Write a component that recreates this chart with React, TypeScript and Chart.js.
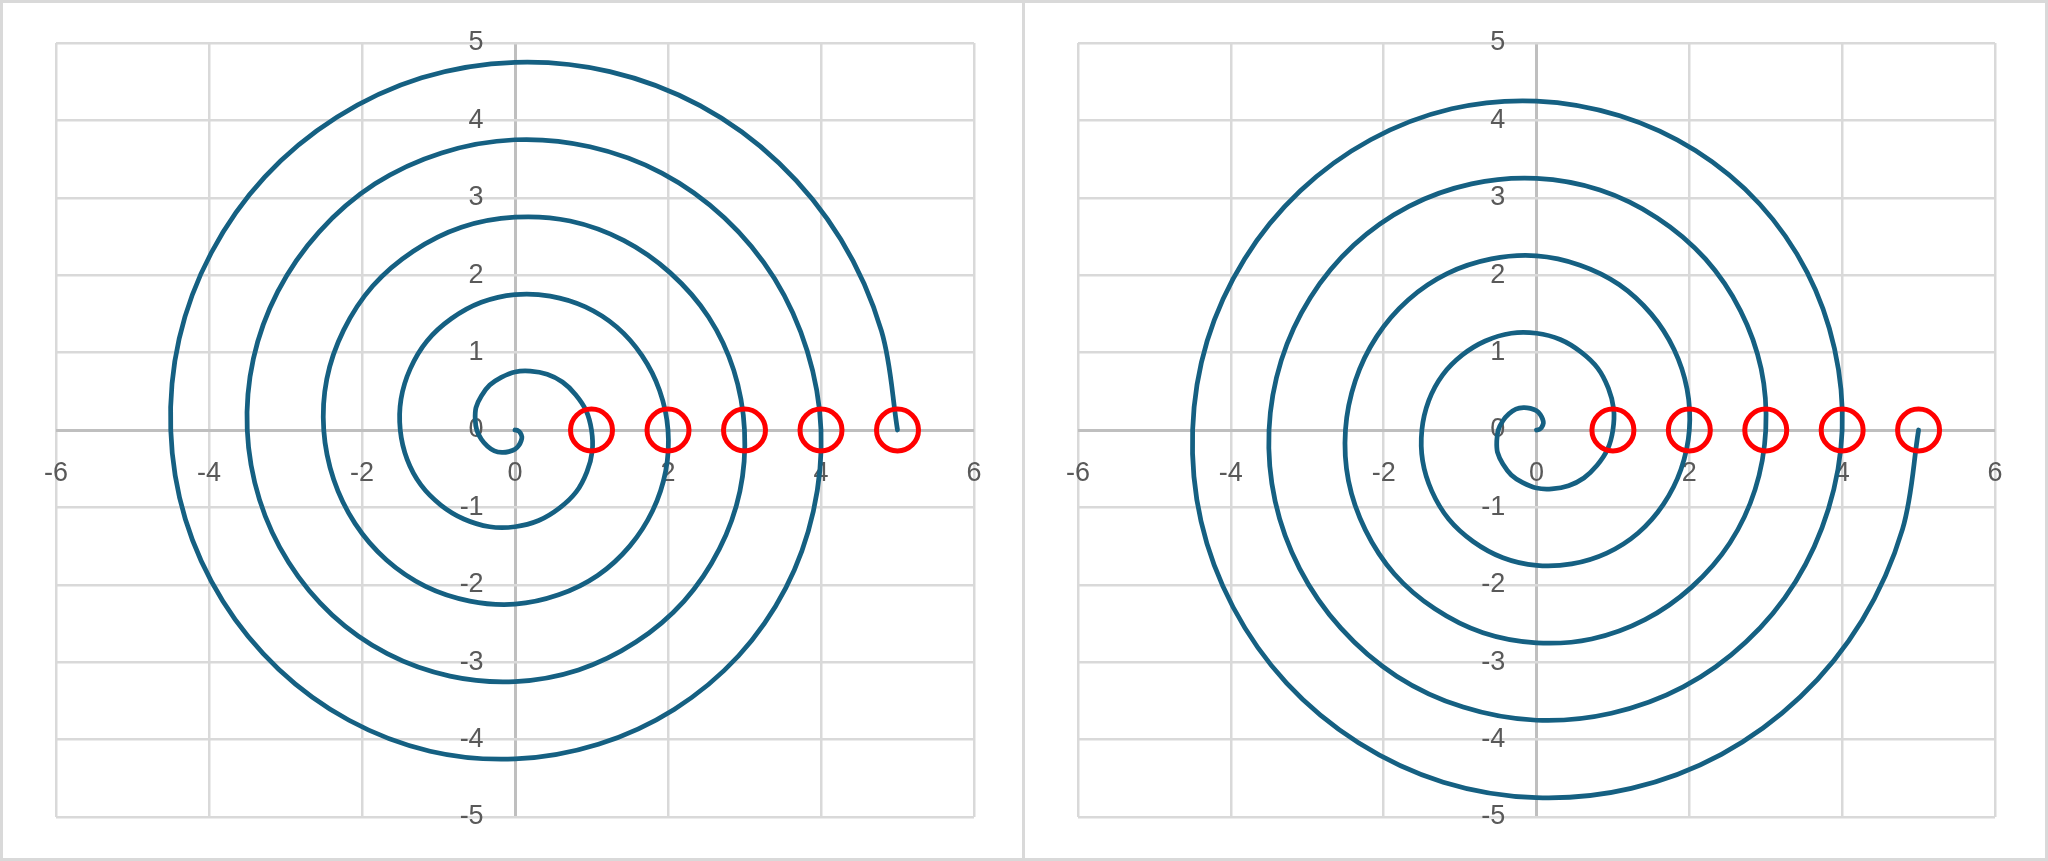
import { useEffect, useRef } from "react"
import { Chart, registerables } from "chart.js"

Chart.register(...registerables)

// Spiral points, one every 15 degrees (24 per turn, 5 turns).
// Both panels share the same x values; the left one turns clockwise, the right one counter-clockwise.
const spiralX = [
  0, 0.04, 0.07, 0.09, 0.08, 0.05, 0, -0.08, -0.17, -0.27, -0.36, -0.44,
  -0.5, -0.52, -0.51, -0.44, -0.33, -0.18, 0, 0.2, 0.42, 0.62, 0.79, 0.93,
  1, 1.01, 0.94, 0.8, 0.58, 0.31, 0, -0.33, -0.67, -0.97, -1.23, -1.41,
  -1.5, -1.49, -1.37, -1.15, -0.83, -0.44, 0, 0.46, 0.92, 1.33, 1.66, 1.89,
  2, 1.97, 1.8, 1.5, 1.08, 0.57, 0, -0.59, -1.17, -1.68, -2.09, -2.37,
  -2.5, -2.46, -2.24, -1.86, -1.33, -0.7, 0, 0.72, 1.42, 2.03, 2.53, 2.86,
  3, 2.94, 2.67, 2.21, 1.58, 0.83, 0, -0.85, -1.67, -2.39, -2.96, -3.34,
  -3.5, -3.42, -3.1, -2.56, -1.83, -0.96, 0, 0.98, 1.92, 2.74, 3.39, 3.82,
  4, 3.9, 3.54, 2.92, 2.08, 1.09, 0, -1.11, -2.17, -3.09, -3.82, -4.31,
  -4.5, -4.39, -3.97, -3.27, -2.33, -1.22, 0, 1.24, 2.42, 3.45, 4.26, 4.79,
  5,
]

const leftSpiralY = [
  0, -0.01, -0.04, -0.09, -0.14, -0.2, -0.25, -0.28, -0.29, -0.27, -0.21, -0.12,
  0, 0.14, 0.29, 0.44, 0.58, 0.68, 0.75, 0.76, 0.72, 0.62, 0.46, 0.25,
  0, -0.27, -0.54, -0.8, -1.01, -1.17, -1.25, -1.25, -1.15, -0.97, -0.71, -0.38,
  0, 0.4, 0.79, 1.15, 1.44, 1.65, 1.75, 1.73, 1.59, 1.33, 0.96, 0.51,
  0, -0.53, -1.04, -1.5, -1.88, -2.13, -2.25, -2.21, -2.02, -1.68, -1.21, -0.64,
  0, 0.66, 1.29, 1.86, 2.31, 2.62, 2.75, 2.7, 2.45, 2.03, 1.46, 0.77,
  0, -0.79, -1.54, -2.21, -2.74, -3.1, -3.25, -3.18, -2.89, -2.39, -1.71, -0.9,
  0, 0.92, 1.79, 2.56, 3.18, 3.58, 3.75, 3.66, 3.32, 2.74, 1.96, 1.02,
  0, -1.05, -2.04, -2.92, -3.61, -4.06, -4.25, -4.15, -3.75, -3.09, -2.21, -1.15,
  0, 1.18, 2.29, 3.27, 4.04, 4.55, 4.75, 4.63, 4.19, 3.45, 2.46, 1.28,
  0,
]

const rightSpiralY = [
  0, 0.01, 0.04, 0.09, 0.14, 0.2, 0.25, 0.28, 0.29, 0.27, 0.21, 0.12,
  0, -0.14, -0.29, -0.44, -0.58, -0.68, -0.75, -0.76, -0.72, -0.62, -0.46, -0.25,
  0, 0.27, 0.54, 0.8, 1.01, 1.17, 1.25, 1.25, 1.15, 0.97, 0.71, 0.38,
  0, -0.4, -0.79, -1.15, -1.44, -1.65, -1.75, -1.73, -1.59, -1.33, -0.96, -0.51,
  0, 0.53, 1.04, 1.5, 1.88, 2.13, 2.25, 2.21, 2.02, 1.68, 1.21, 0.64,
  0, -0.66, -1.29, -1.86, -2.31, -2.62, -2.75, -2.7, -2.45, -2.03, -1.46, -0.77,
  0, 0.79, 1.54, 2.21, 2.74, 3.1, 3.25, 3.18, 2.89, 2.39, 1.71, 0.9,
  0, -0.92, -1.79, -2.56, -3.18, -3.58, -3.75, -3.66, -3.32, -2.74, -1.96, -1.02,
  0, 1.05, 2.04, 2.92, 3.61, 4.06, 4.25, 4.15, 3.75, 3.09, 2.21, 1.15,
  0, -1.18, -2.29, -3.27, -4.04, -4.55, -4.75, -4.63, -4.19, -3.45, -2.46, -1.28,
  0,
]

// red rings on the x axis
const markerX = [1, 2, 3, 4, 5]
const markerY = [0, 0, 0, 0, 0]

const xTicks = [-6, -4, -2, 0, 2, 4, 6]
const yTicks = [-5, -4, -3, -2, -1, 0, 1, 2, 3, 4, 5]

const GRID = "#d9d9d9"
const AXIS = "#bfbfbf"
const LABEL = "#595959"
const FONT = { family: "'Liberation Sans', Arial, sans-serif", size: 27 }

const gridColor = (ctx: any) => (ctx.tick && ctx.tick.value === 0 ? AXIS : GRID)
const gridWidth = (ctx: any) => (ctx.tick && ctx.tick.value === 0 ? 3 : 2.5)

interface SpiralChartProps {
  spiralY: number[]
  padRight: number
}

function SpiralChart({ spiralY, padRight }: SpiralChartProps) {
  const chartRef = useRef<HTMLCanvasElement>(null)
  const chartInstance = useRef<Chart | null>(null)

  useEffect(() => {
    if (!chartRef.current) return
    if (chartInstance.current) chartInstance.current.destroy()

    const ctx = chartRef.current.getContext("2d")
    if (!ctx) return

    chartInstance.current = new Chart(ctx, {
      type: "scatter",
      data: {
        datasets: [
          {
            data: markerX.map((x, i) => ({ x, y: markerY[i] })),
            showLine: false,
            pointRadius: 21,
            pointBorderWidth: 5,
            pointBorderColor: "#ff0000",
            pointBackgroundColor: "rgba(0,0,0,0)",
            order: 0,
          },
          {
            data: spiralX.map((x, i) => ({ x, y: spiralY[i] })),
            showLine: true,
            borderColor: "#156082",
            borderWidth: 4.75,
            tension: 0.34,
            borderCapStyle: "round",
            borderJoinStyle: "round",
            pointRadius: 0,
            fill: false,
            order: 1,
          },
        ],
      },
      options: {
        responsive: true,
        maintainAspectRatio: false,
        animation: false,
        events: [],
        layout: { padding: { left: 53, right: padRight, top: 40, bottom: 41 } },
        plugins: {
          legend: { display: false },
          tooltip: { enabled: false },
          title: { display: false },
        },
        scales: {
          x: {
            type: "linear",
            position: { y: 0 },
            min: xTicks[0],
            max: xTicks[xTicks.length - 1],
            afterBuildTicks: (scale) => {
              scale.ticks = xTicks.map((value) => ({ value }))
            },
            grid: { color: gridColor, lineWidth: gridWidth, drawTicks: false },
            border: { display: false },
            ticks: { color: LABEL, font: FONT, padding: 27, autoSkip: false, maxRotation: 0 },
          },
          y: {
            type: "linear",
            // labels end a little left of the vertical axis line (which is the x grid line at 0)
            position: { x: -0.41 },
            min: yTicks[0],
            max: yTicks[yTicks.length - 1],
            afterBuildTicks: (scale) => {
              scale.ticks = yTicks.map((value) => ({ value }))
            },
            grid: { color: gridColor, lineWidth: gridWidth, drawTicks: false },
            border: { display: false },
            ticks: { color: LABEL, font: FONT, padding: 0, autoSkip: false },
          },
        },
      },
    })

    return () => {
      if (chartInstance.current) {
        chartInstance.current.destroy()
        chartInstance.current = null
      }
    }
  }, [spiralY, padRight])

  return <canvas ref={chartRef} />
}

export default function App() {
  return (
    <div
      style={{
        position: "absolute",
        left: 0,
        top: 0,
        width: 2048,
        height: 861,
        boxSizing: "border-box",
        border: `3px solid ${GRID}`,
        background: "#ffffff",
        display: "flex",
      }}
    >
      <div style={{ position: "relative", width: 1019, height: 855 }}>
        <SpiralChart spiralY={leftSpiralY} padRight={48} />
      </div>
      <div style={{ width: 3, height: 855, background: GRID }} />
      <div style={{ position: "relative", width: 1020, height: 855 }}>
        <SpiralChart spiralY={rightSpiralY} padRight={50} />
      </div>
    </div>
  )
}
